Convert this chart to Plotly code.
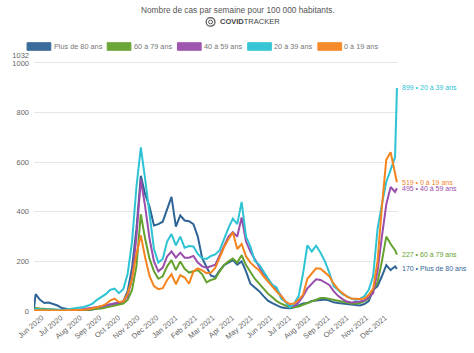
import pandas as pd
import plotly.graph_objects as go

# ---------------- data ----------------
dates = (["2020-05-19"]
         + [d.strftime("%Y-%m-%d") for d in pd.date_range("2020-05-22", "2021-12-17", freq="7D")]
         + ["2021-12-20"])

plus80 = [0, 68, 45, 32, 34, 28, 22, 12, 8, 5, 4, 3, 3, 4, 6, 12, 16, 22, 26, 30, 28,
          40, 80, 175, 330, 545, 470, 420, 345, 350, 360, 410, 460, 340, 385, 365, 362,
          350, 300, 213, 175, 142, 137, 164, 185, 195, 205, 187, 200, 160, 110, 95, 80,
          60, 42, 32, 22, 15, 12, 11, 15, 22, 30, 32, 40, 42, 44, 46, 42, 35, 32, 30, 27,
          24, 22, 22, 28, 40, 85, 100, 140, 185, 165, 180, 170]

a60_79 = [0, 12, 10, 8, 7, 6, 5, 4, 3, 3, 3, 3, 4, 5, 6, 8, 10, 14, 18, 22, 25,
          30, 45, 85, 180, 390, 290, 210, 160, 130, 140, 180, 205, 165, 200, 170, 155,
          160, 165, 148, 115, 125, 130, 160, 185, 200, 212, 195, 225, 185, 155, 130, 110,
          90, 70, 55, 40, 30, 22, 15, 15, 18, 25, 32, 40, 45, 52, 52, 48, 45, 40, 36, 32,
          30, 30, 32, 40, 50, 85, 115, 200, 300, 270, 245, 227]

a40_59 = [0, 5, 4, 3, 3, 3, 3, 3, 3, 4, 5, 6, 8, 10, 12, 15, 18, 22, 26, 30, 33,
          38, 60, 130, 300, 530, 420, 290, 200, 160, 175, 220, 240, 215, 235, 215, 215,
          222, 195, 180, 175, 180, 187, 225, 265, 300, 318, 300, 377, 280, 240, 206, 178,
          150, 125, 105, 85, 60, 38, 20, 20, 35, 60, 91, 110, 128, 125, 115, 105, 80, 61,
          48, 38, 34, 35, 38, 42, 55, 72, 160, 300, 430, 500, 480, 495]

a20_39 = [0, 8, 7, 6, 5, 5, 5, 5, 6, 8, 10, 12, 16, 22, 30, 45, 57, 68, 85, 90, 72,
          88, 150, 280, 500, 660, 530, 380, 250, 195, 210, 280, 310, 265, 300, 255, 262,
          260, 230, 212, 210, 222, 228, 245, 292, 335, 372, 350, 440, 300, 260, 202, 187,
          160, 135, 105, 95, 50, 38, 15, 30, 60, 150, 265, 240, 263, 235, 200, 155, 100,
          85, 68, 60, 50, 45, 48, 60, 85, 140, 330, 430, 520, 570, 620, 899]

a0_19 = [0, 3, 3, 2, 2, 2, 2, 2, 2, 3, 3, 4, 5, 7, 10, 15, 20, 28, 42, 50, 36,
         38, 70, 130, 230, 305, 215, 140, 100, 88, 92, 125, 148, 108, 145, 135, 110,
         160, 172, 164, 152, 155, 175, 215, 258, 290, 316, 250, 270, 220, 195, 178, 164,
         140, 118, 100, 78, 60, 38, 28, 30, 45, 65, 130, 150, 172, 170, 155, 140, 110,
         88, 72, 58, 50, 48, 48, 50, 65, 90, 200, 420, 610, 640, 560, 519]

series_names = ["Plus de 80 ans", "60 à 79 ans", "40 à 59 ans", "20 à 39 ans", "0 à 19 ans"]
series_values = [plus80, a60_79, a40_59, a20_39, a0_19]
colors = ["#2f6496", "#65a12e", "#9a4dab", "#2ec3d3", "#f5841f"]

y_ticks = [0, 200, 400, 600, 800, 1000, 1032]

# ---------------- figure ----------------
W, H = 474, 353
ML, MR, MT, MB = 30, 76, 55, 27
PW, PH = W - ML - MR, H - MT - MB


def px2x(px):
    return (px - ML) / PW


def px2y(py):
    return (H - MB - py) / PH


fig = go.Figure()
for name, vals, col in zip(series_names, series_values, colors):
    fig.add_trace(go.Scatter(x=dates, y=vals, mode="lines", name=name,
                             line=dict(color=col, width=2), showlegend=False))
    fig.add_annotation(x=dates[-1], y=vals[-1], xref="x", yref="y",
                       text=f"{vals[-1]} • {name}", showarrow=False,
                       xanchor="left", yanchor="middle", xshift=3,
                       font=dict(size=7, color=col))

font_fam = "Arial, Liberation Sans, sans-serif"

# manual legend (boxes + labels)
legend_boxes = [(23, 47, 49), (104, 128, 130), (175, 199, 201), (246, 270, 272), (317, 341, 342)]
for (x0, x1, tx), name, col in zip(legend_boxes, series_names, colors):
    fig.add_shape(type="rect", xref="paper", yref="paper",
                  x0=px2x(x0), x1=px2x(x1), y0=px2y(50), y1=px2y(42),
                  fillcolor=col, line=dict(color=col, width=1), opacity=0.95)
    fig.add_annotation(xref="paper", yref="paper", x=px2x(tx), y=px2y(46),
                       text=name, showarrow=False, xanchor="left", yanchor="middle",
                       borderpad=0,
                       font=dict(size=7.3, color="#777", family=font_fam))

# title and brand
fig.add_annotation(xref="paper", yref="paper", x=px2x(236), y=px2y(7.5),
                   text="Nombre de cas par semaine pour 100 000 habitants.",
                   showarrow=False, xanchor="center", yanchor="middle",
                   font=dict(size=8.3, color="#555", family=font_fam))
fig.add_annotation(xref="paper", yref="paper", x=px2x(217), y=px2y(20),
                   text="<b>COVID</b>TRACKER", showarrow=False, xanchor="left",
                   yanchor="middle", borderpad=0,
                   font=dict(size=7.5, color="#444", family=font_fam))
fig.add_shape(type="circle", xref="paper", yref="paper",
              x0=px2x(204), x1=px2x(213), y0=px2y(24.5), y1=px2y(15.5),
              line=dict(color="#555", width=1.2))
fig.add_shape(type="circle", xref="paper", yref="paper",
              x0=px2x(206.5), x1=px2x(210.5), y0=px2y(22), y1=px2y(18),
              line=dict(color="#555", width=1))

fig.update_layout(
    width=W, height=H,
    margin=dict(l=ML, r=MR, t=MT, b=MB, pad=0),
    paper_bgcolor="white", plot_bgcolor="white",
    font=dict(family=font_fam, color="#666"),
    showlegend=False,
    xaxis=dict(type="date", range=["2020-05-19 10:00", "2021-12-21 17:00"],
               tick0="2020-06-01", dtick="M1", tickformat="%b %Y",
               tickangle=-40, tickfont=dict(size=7.5, color="#666"),
               showgrid=False, zeroline=False, showline=False, ticks=""),
    yaxis=dict(range=[0, 1032], tickvals=y_ticks, ticktext=[str(v) for v in y_ticks],
               tickfont=dict(size=7.5, color="#666"), gridcolor="#e6e6e6",
               gridwidth=1, zeroline=False, showline=False, ticks="",
               ticklabelstandoff=4),
)

fig.write_html("out.html")
